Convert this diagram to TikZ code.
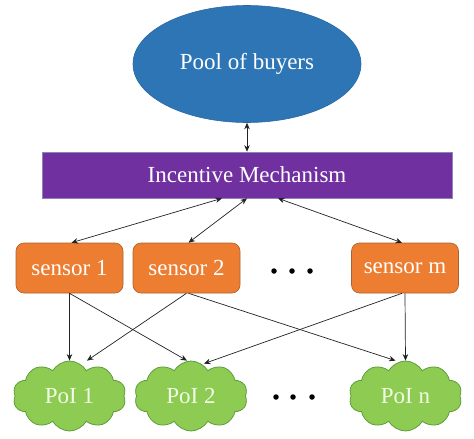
\documentclass[tikz,border=0pt]{standalone}
\usepackage{fontspec}
\setmainfont{Liberation Serif}
\usetikzlibrary{shapes.geometric,shapes.symbols,arrows.meta}
\definecolor{buyblue}{HTML}{2E75B6}
\definecolor{buyedge}{HTML}{2A68A3}
\definecolor{mechpurple}{HTML}{7030A0}
\definecolor{mechedge}{HTML}{8A86B8}
\definecolor{sensorange}{HTML}{ED7D31}
\definecolor{sensedge}{HTML}{A9622F}
\definecolor{poigreen}{HTML}{8DCB52}
\definecolor{poiedge}{HTML}{5E9E3A}
\definecolor{poitext}{HTML}{F2FBE6}
\definecolor{linegray}{HTML}{222222}
\tikzset{
  txt/.style={font=\fontsize{23}{27}\selectfont, inner sep=0pt},
  buyers/.style={txt, ellipse, fill=buyblue, draw=buyedge, line width=0.6pt, text=white, minimum width=228pt, minimum height=117pt},
  mechbox/.style={txt, rectangle, fill=mechpurple, draw=mechedge, line width=0.6pt, text=white, minimum width=410pt, minimum height=46pt},
  sensorbox/.style={txt, rectangle, rounded corners=8pt, fill=sensorange, draw=sensedge, line width=0.6pt, text=white, minimum width=107pt, minimum height=50pt},
  poicloud/.style={txt, cloud, cloud puffs=10, cloud puff arc=120, cloud ignores aspect, fill=poigreen, draw=poiedge, line width=0.8pt, text=poitext, minimum width=113pt, minimum height=70pt},
  link/.style={draw=linegray, line width=0.7pt, -{Stealth[length=6.5pt,width=5.5pt]}},
  duallink/.style={draw=linegray, line width=0.7pt, {Stealth[length=6.5pt,width=5.5pt]}-{Stealth[length=6.5pt,width=5.5pt]}},
  dot/.style={circle, fill=black, inner sep=0pt, minimum size=5.5pt}
}
\begin{document}
\begin{tikzpicture}[x=1pt,y=-1pt]
\useasboundingbox (0,0) rectangle (474,439);
\node[buyers] (buyers) at (247,64) {Pool of buyers};
\node[mechbox] (mech) at (247,175) {Incentive Mechanism};
\node[sensorbox] (s1) at (69.5,268) {sensor 1};
\node[sensorbox] (s2) at (186.5,268) {sensor 2};
\node[sensorbox] (sm) at (405,268) {sensor m};
\node[dot] (d1) at (274,271) {};
\node[dot] (d2) at (292,271) {};
\node[dot] (d3) at (310,271) {};
\node[poicloud] (p1) at (69.5,396) {PoI 1};
\node[poicloud] (p2) at (191,396) {PoI 2};
\node[poicloud] (pn) at (405.5,396) {PoI n};
\node[dot] (e1) at (276,397) {};
\node[dot] (e2) at (293,397) {};
\node[dot] (e3) at (312,397) {};
\draw[duallink] (buyers.south) -- (mech.north);
\draw[duallink] ([xshift=-25pt]mech.south) -- ([xshift=2pt]s1.north);
\draw[duallink] (mech.south) -- ([xshift=2pt]s2.north);
\draw[duallink] ([xshift=31pt]mech.south) -- ([xshift=-3pt]sm.north);
\draw[link] (s1.south) -- (p1.north);
\draw[link] (s1.south) -- ([xshift=-4pt]p2.north);
\draw[link] (s2.south) -- ([xshift=17.5pt]p1.north);
\draw[link] ([xshift=2pt]s2.south) -- ([xshift=-10pt]pn.north);
\draw[link] ([xshift=-3pt]sm.south) -- ([xshift=13pt,yshift=-3pt]p2.north);
\draw[link] (sm.south) -- (pn.north);
\end{tikzpicture}
\end{document}
